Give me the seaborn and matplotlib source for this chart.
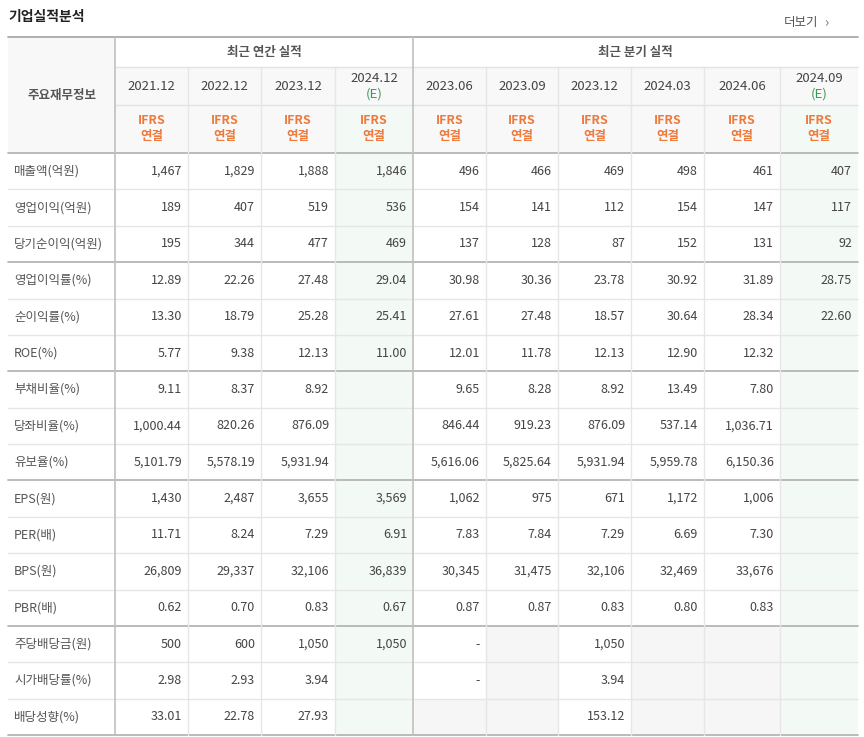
"""
기업실적분석 표를 그림으로 재현.

    python plot.py
"""

import matplotlib
matplotlib.use("Agg")

import matplotlib.pyplot as plt
from matplotlib.patches import Rectangle
import seaborn as sns

sns.set_theme(style="white")
plt.rcParams["font.family"] = ["Noto Sans CJK KR", "Noto Sans CJK JP",
                               "Noto Sans CJK SC", "DejaVu Sans"]

# --- 데이터 ------------------------------------------------------------------
periodos = ["2021.12", "2022.12", "2023.12", "2024.12", "2023.06",
            "2023.09", "2023.12", "2024.03", "2024.06", "2024.09"]
estimativa = [False, False, False, True, False, False, False, False, False, True]

itens = ["매출액(억원)", "영업이익(억원)", "당기순이익(억원)", "영업이익률(%)",
         "순이익률(%)", "ROE(%)", "부채비율(%)", "당좌비율(%)", "유보율(%)",
         "EPS(원)", "PER(배)", "BPS(원)", "PBR(배)", "주당배당금(원)",
         "시가배당률(%)", "배당성향(%)"]

valores = [
    ["1,467", "1,829", "1,888", "1,846", "496", "466", "469", "498", "461", "407"],
    ["189", "407", "519", "536", "154", "141", "112", "154", "147", "117"],
    ["195", "344", "477", "469", "137", "128", "87", "152", "131", "92"],
    ["12.89", "22.26", "27.48", "29.04", "30.98", "30.36", "23.78", "30.92", "31.89", "28.75"],
    ["13.30", "18.79", "25.28", "25.41", "27.61", "27.48", "18.57", "30.64", "28.34", "22.60"],
    ["5.77", "9.38", "12.13", "11.00", "12.01", "11.78", "12.13", "12.90", "12.32", ""],
    ["9.11", "8.37", "8.92", "", "9.65", "8.28", "8.92", "13.49", "7.80", ""],
    ["1,000.44", "820.26", "876.09", "", "846.44", "919.23", "876.09", "537.14", "1,036.71", ""],
    ["5,101.79", "5,578.19", "5,931.94", "", "5,616.06", "5,825.64", "5,931.94", "5,959.78", "6,150.36", ""],
    ["1,430", "2,487", "3,655", "3,569", "1,062", "975", "671", "1,172", "1,006", ""],
    ["11.71", "8.24", "7.29", "6.91", "7.83", "7.84", "7.29", "6.69", "7.30", ""],
    ["26,809", "29,337", "32,106", "36,839", "30,345", "31,475", "32,106", "32,469", "33,676", ""],
    ["0.62", "0.70", "0.83", "0.67", "0.87", "0.87", "0.83", "0.80", "0.83", ""],
    ["500", "600", "1,050", "1,050", "-", "", "1,050", "", "", ""],
    ["2.98", "2.93", "3.94", "", "-", "", "3.94", "", "", ""],
    ["33.01", "22.78", "27.93", "", "", "", "153.12", "", "", ""],
]

# células sem dado que aparecem em cinza (linha, coluna)
celulas_cinza = [(13, 5), (13, 7), (13, 8), (14, 5), (14, 7), (14, 8),
                 (15, 4), (15, 5), (15, 7), (15, 8)]

# --- geometria (pixels) -----------------------------------------------------
xs = [8, 115, 188, 261, 335, 413, 486, 558, 631, 704, 780, 858]
y_topo, y_grupo, y_data, y_ifrs = 37, 67, 105, 153
alt_linha = (735 - y_ifrs) / 16
separadores = {3, 6, 9, 13}

VERDE_BG = "#f3f9f4"
CINZA_BG = "#f6f6f6"
CAB_BG = "#f8f8f8"
TXT = "#444444"
LARANJA = "#ee7a3c"
VERDE = "#3c9a55"

fig = plt.figure(figsize=(8.64, 7.37), dpi=100)
ax = fig.add_axes([0, 0, 1, 1])
ax.set_xlim(0, 864)
ax.set_ylim(737, 0)
ax.axis("off")


def caixa(x0, y0, x1, y1, cor):
    ax.add_patch(Rectangle((x0, y0), x1 - x0, y1 - y0, facecolor=cor,
                           edgecolor="none", zorder=0))


# fundos do cabeçalho
caixa(xs[0], y_topo, xs[-1], y_ifrs, CAB_BG)
caixa(xs[4], y_data, xs[5], y_ifrs, VERDE_BG)
caixa(xs[10], y_data, xs[11], y_ifrs, VERDE_BG)
caixa(xs[1], y_topo, xs[-1], y_grupo, "white")
# colunas estimadas
caixa(xs[4], y_ifrs, xs[5], 735, VERDE_BG)
caixa(xs[10], y_ifrs, xs[11], 735, VERDE_BG)
for r, c in celulas_cinza:
    y0 = y_ifrs + r * alt_linha
    caixa(xs[c + 1], y0, xs[c + 2], y0 + alt_linha, CINZA_BG)

# linhas
ax.plot([xs[0], xs[-1]], [y_topo, y_topo], color="#aaaaaa", lw=1.3)
ax.plot([xs[1], xs[-1]], [y_grupo, y_grupo], color="#e3e3e3", lw=1)
ax.plot([xs[1], xs[-1]], [y_data, y_data], color="#e3e3e3", lw=1)
ax.plot([xs[0], xs[-1]], [y_ifrs, y_ifrs], color="#b5b5b5", lw=1.3)
for i in range(1, 17):
    y = y_ifrs + i * alt_linha
    forte = i in separadores or i == 16
    ax.plot([xs[0], xs[-1]], [y, y], color="#b5b5b5" if forte else "#e6e6e6",
            lw=1.3 if forte else 1)
for x in xs[1:-1]:
    forte = x in (115, 413)
    y0 = y_topo if forte else y_grupo
    ax.plot([x, x], [y0, 735], color="#c0c0c0" if forte else "#e6e6e6",
            lw=1.2 if forte else 1)

# textos do cabeçalho
ax.text(8, 17, "기업실적분석", fontsize=10, fontweight="bold", color="#222222",
        va="center", ha="left")
ax.text(818, 22, "더보기", fontsize=9, color="#555555", va="center", ha="right")
ax.text(826, 22, "›", fontsize=10, color="#777777", va="center", ha="center")
ax.text((xs[0] + xs[1]) / 2, (y_topo + y_ifrs) / 2, "주요재무정보", fontsize=9,
        fontweight="bold", color="#555555", ha="center", va="center")
ax.text((xs[1] + xs[5]) / 2, (y_topo + y_grupo) / 2, "최근 연간 실적", fontsize=9,
        fontweight="bold", color="#555555", ha="center", va="center")
ax.text((xs[5] + xs[-1]) / 2, (y_topo + y_grupo) / 2, "최근 분기 실적", fontsize=9,
        fontweight="bold", color="#555555", ha="center", va="center")

for c, (p, est) in enumerate(zip(periodos, estimativa)):
    cx = (xs[c + 1] + xs[c + 2]) / 2
    if est:
        ax.text(cx, 78, p, fontsize=9.5, color="#444444", ha="center", va="center")
        ax.text(cx, 94, "(E)", fontsize=9.5, color=VERDE, ha="center", va="center")
    else:
        ax.text(cx, 86, p, fontsize=9.5, color="#444444", ha="center", va="center")
    ax.text(cx, 120, "IFRS", fontsize=9, fontweight="bold", color=LARANJA,
            ha="center", va="center")
    ax.text(cx, 136, "연결", fontsize=9, fontweight="bold", color=LARANJA,
            ha="center", va="center")

# corpo
for r, (item, linha) in enumerate(zip(itens, valores)):
    cy = y_ifrs + (r + 0.5) * alt_linha
    ax.text(14, cy, item, fontsize=9, color="#555555", ha="left", va="center")
    for c, v in enumerate(linha):
        if v:
            ax.text(xs[c + 2] - 6, cy, v, fontsize=9, color=TXT,
                    ha="right", va="center")

fig.savefig("out.png", dpi=100)
plt.close(fig)
